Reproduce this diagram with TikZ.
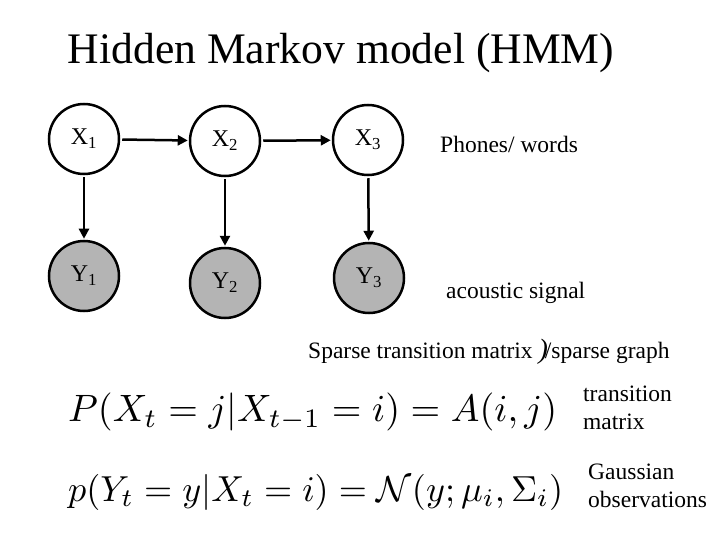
\documentclass[tikz,border=0pt]{standalone}
\usepackage{fontspec}
\setmainfont{Liberation Serif}
\usepackage{graphicx}
\usetikzlibrary{arrows.meta}
\definecolor{obsgray}{RGB}{180,180,180}
\begin{document}
\begin{tikzpicture}[x=1pt,y=-1pt,
  var/.style={circle,draw,line width=2.5pt,minimum size=70pt,inner sep=0pt,font=\fontsize{24}{26}\selectfont},
  obs/.style={var,fill=obsgray},
  arr/.style={-{Triangle[length=10pt,width=10pt]},line width=2.5pt,shorten <=2pt,shorten >=1pt},
  lab/.style={font=\fontsize{23.5}{27}\selectfont,anchor=base west,inner sep=0pt}]
\useasboundingbox (0,0) rectangle (720,540);
\node[anchor=base,inner sep=0pt,font=\fontsize{43.6}{48}\selectfont] (title) at (341,64) {Hidden Markov model (HMM)};
\node[var] (x1) at (84,139) {X\textsubscript{1}};
\node[var] (x2) at (225,141) {X\textsubscript{2}};
\node[var] (x3) at (368,140) {X\textsubscript{3}};
\node[obs] (y1) at (84,276) {Y\textsubscript{1}};
\node[obs] (y2) at (225,283) {Y\textsubscript{2}};
\node[obs] (y3) at (369,278) {Y\textsubscript{3}};
\draw[arr] (x1) -- (x2);
\draw[arr] (x2) -- (x3);
\draw[arr] (x1) -- (y1);
\draw[arr] (x2) -- (y2);
\draw[arr] (x3) -- (y3);
\node[lab] (l1) at (440,153) {Phones/ words};
\node[lab] (l2) at (446,298) {acoustic signal};
\node[lab] (l3) at (308,358) {Sparse transition matrix {\fontsize{28}{30}\selectfont\textit{)}}\kern-3pt/sparse graph};
\node[anchor=west,inner sep=0pt] (e1) at (68,412) {\resizebox{489pt}{!}{$P(X_t=j|X_{t-1}=i)=A(i,j)$}};
\node[anchor=west,inner sep=0pt] (e2) at (68,492) {\resizebox{495pt}{!}{$p(Y_t=y|X_t=i)=\mathcal{N}(y;\mu_i,\Sigma_i)$}};
\node[lab] (t1) at (583,401) {transition};
\node[lab] (t2) at (583,429) {matrix};
\node[lab] (g1) at (588,479) {Gaussian};
\node[lab] (g2) at (588,507) {observations};
\end{tikzpicture}
\end{document}
